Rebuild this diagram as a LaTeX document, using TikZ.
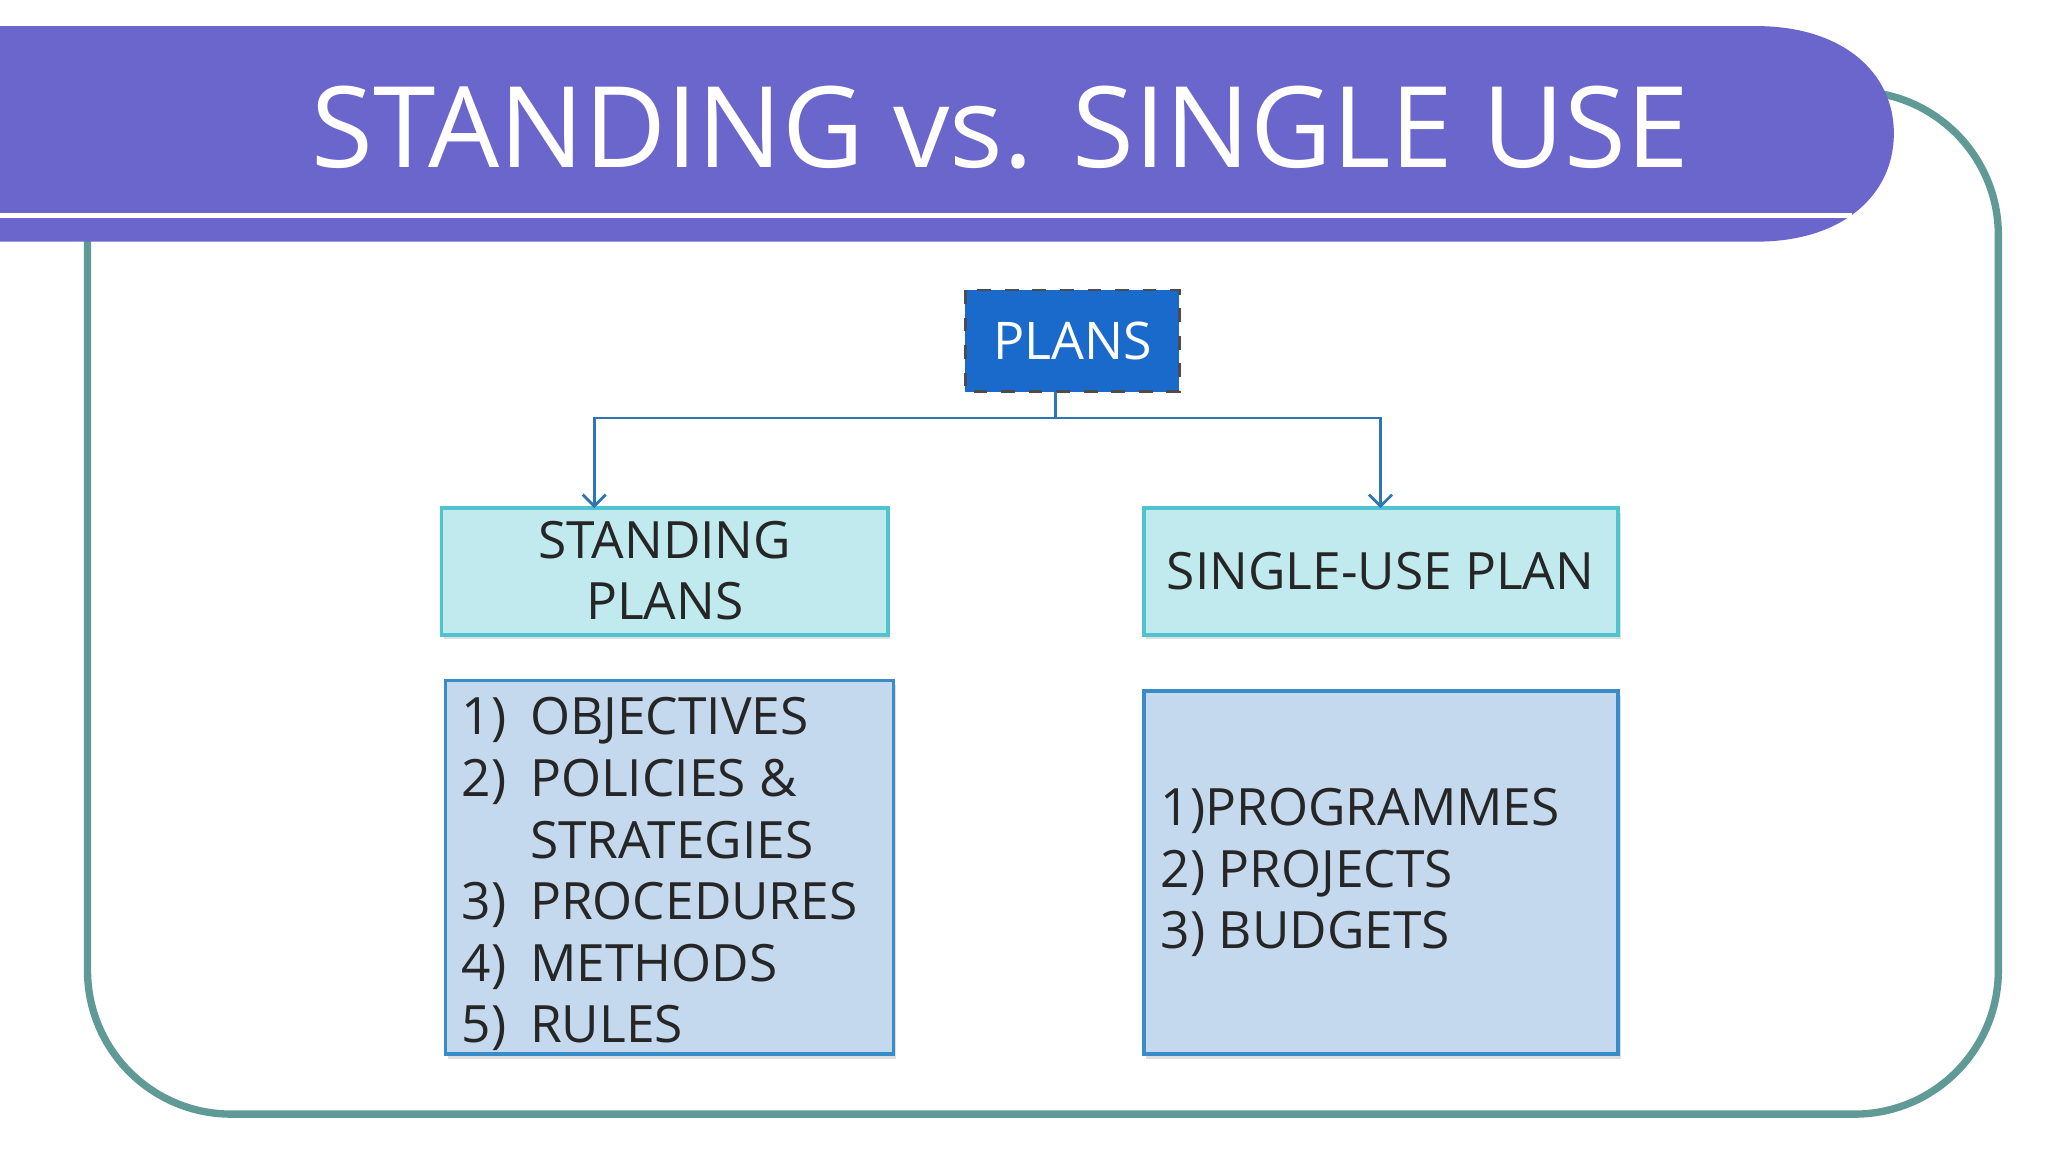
\documentclass[tikz,border=0pt]{standalone}
\usepackage{fontspec}
\setmainfont{Open Sans}
\usetikzlibrary{arrows.meta,shadows}
\definecolor{banner}{HTML}{6A66CC}
\definecolor{frame}{HTML}{5F9A96}
\definecolor{plansblue}{HTML}{1A6ACB}
\definecolor{cyanfill}{HTML}{C0EAEE}
\definecolor{cyanline}{HTML}{4FC3D0}
\definecolor{listfill}{HTML}{C5D9EE}
\definecolor{listline}{HTML}{3A8CC8}
\definecolor{conn}{HTML}{2E75B6}
\begin{document}
\begin{tikzpicture}[x=0.01cm,y=-0.01cm,
  box/.style={draw=cyanline,fill=cyanfill,line width=0.8pt,drop shadow={opacity=0.25,shadow xshift=0.5pt,shadow yshift=-1pt}},
  lst/.style={draw=listline,fill=listfill,line width=0.8pt,drop shadow={opacity=0.25,shadow xshift=0.5pt,shadow yshift=-1pt}},
  txt/.style={font=\fontsize{11.2}{13.4}\selectfont,text=black!85},
  con/.style={draw=conn,line width=0.6pt}]
\useasboundingbox (0,0) rectangle (1568,882);
\fill[white] (0,0) rectangle (1568,882);
% frame
\draw[frame,line width=1.6pt,rounded corners=1.1cm] (67,70) rectangle (1530,853);
% banner
\fill[banner] (0,20) -- (1345,20) .. controls (1410,20) and (1450,55) .. (1450,102) .. controls (1450,150) and (1410,185) .. (1345,185) -- (0,185) -- cycle;
\draw[white,line width=1.2pt] (0,165) -- (1418,165);
\node[text=white,font=\fontsize{24.5}{30}\selectfont] (title) at (766,98) {STANDING vs. SINGLE USE};
% nodes
\path[draw=black!70,dashed,fill=plansblue,line width=0.6pt] (739,222) rectangle (903,300);
\node[text=white,font=\fontsize{11.3}{14}\selectfont] (plans) at (821,261) {PLANS};
\coordinate (pb) at (808,300);
\path[box] (338,389) rectangle (680,486);
\node[txt,align=center] (stand) at (509,437) {STANDING\\PLANS};
\path[box] (876,389) rectangle (1239,486);
\node[txt] (single) at (1057,437) {SINGLE-USE PLAN};
\path[lst] (341,521) rectangle (684,807);
\node[txt,anchor=north west,inner sep=0pt] (l1) at (353,529) {\begin{tabular}{@{}l@{\hspace{0.18cm}}l@{}}1)&OBJECTIVES\\2)&POLICIES \&\\&STRATEGIES\\3)&PROCEDURES\\4)&METHODS\\5)&RULES\end{tabular}};
\path[lst] (876,529) rectangle (1239,807);
\node[txt,anchor=west,inner sep=0pt,align=left] (l2) at (888,668) {1)PROGRAMMES\\2) PROJECTS\\3) BUDGETS};
% connectors
\coordinate (j) at (808,320);
\coordinate (ja) at (455,320);
\coordinate (jb) at (1057,320);
\coordinate (ta) at (455,389);
\coordinate (tb) at (1057,389);
\draw[con] (pb) -- (j);
\draw[con,-{Straight Barb[length=2.5pt,width=5pt]}] (j) -- (ja) -- (ta);
\draw[con,-{Straight Barb[length=2.5pt,width=5pt]}] (j) -- (jb) -- (tb);
\end{tikzpicture}
\end{document}
